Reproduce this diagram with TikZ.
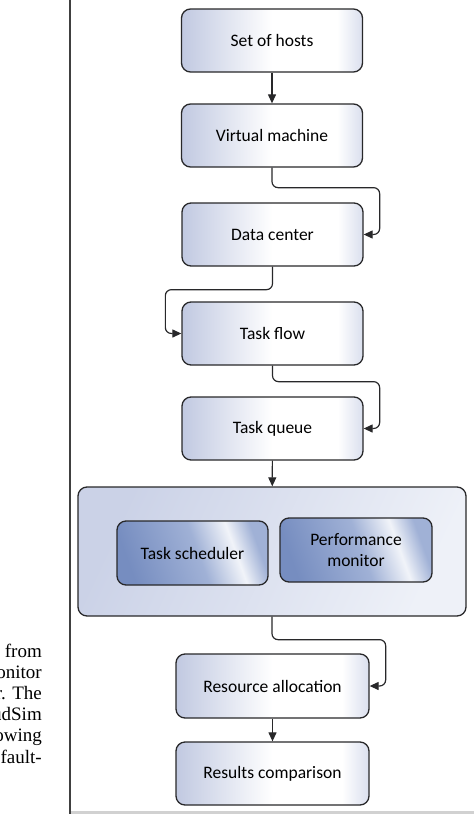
\documentclass[tikz,border=0pt]{standalone}
\usepackage{xcolor}
\usepackage{fontspec}
\usepackage{tikz}
\setmainfont{Carlito}
\newfontfamily\pagefont{Liberation Serif}
\usetikzlibrary{arrows.meta}

\definecolor{boxL}{RGB}{193,201,225}
\definecolor{boxR}{RGB}{218,223,238}
\definecolor{innerL}{RGB}{118,141,192}
\definecolor{innerM}{RGB}{160,177,214}
\definecolor{poolL}{RGB}{203,210,231}
\definecolor{poolR}{RGB}{238,241,248}
\definecolor{edge}{RGB}{40,40,42}

\pgfdeclarehorizontalshading{boxshade}{100bp}{color(0bp)=(boxL); color(25bp)=(boxL); color(50bp)=(white); color(68bp)=(white); color(75bp)=(boxR); color(100bp)=(boxR)}
\pgfdeclarehorizontalshading{innershade}{100bp}{color(0bp)=(innerL); color(25bp)=(innerL); color(52bp)=(innerM); color(66bp)=(white!85!innerM); color(75bp)=(innerM); color(100bp)=(innerM)}
\pgfdeclarehorizontalshading{poolshade}{100bp}{color(0bp)=(poolL); color(25bp)=(poolL); color(75bp)=(poolR); color(100bp)=(poolR)}

\begin{document}
\begin{tikzpicture}[x=1pt,y=-1pt,
    flowbox/.style={draw=edge,line width=1.3pt,rounded corners=9pt,shading=boxshade,
      minimum width=181pt,minimum height=63pt,inner sep=0pt,align=center,
      font=\fontsize{17.5}{21}\selectfont},
    innerbox/.style={flowbox,shading=innershade,shading angle=20,minimum width=151pt,minimum height=64pt},
    link/.style={line width=1.2pt,edge,rounded corners=6pt,-{Stealth[length=9pt,width=8pt,inset=0pt]}}]
  \useasboundingbox (0,0) rectangle (474,814);
  % page rule and cut text
  \draw[line width=1.3pt,black!75](70,0)--(70,814);
  \fill[black!18](71,811) rectangle (474,814);
  \node[anchor=base east,align=right,inner sep=0pt,font=\pagefont\fontsize{19}{21.2}\selectfont] (cut) at (42,763)
    {from\\onitor\\r. The\\\textbf{u}dSim\\owing\\fault-};
  % boxes
  \node[flowbox] (hosts) at (272,40.5) {Set of hosts};
  \node[flowbox] (vm) at (272,135.5) {Virtual machine};
  \node[flowbox] (dc) at (272.5,234.5) {Data center};
  \node[flowbox] (tflow) at (272.5,333.5) {Task flow};
  \node[flowbox] (tqueue) at (272.5,428.5) {Task queue};
  \node[flowbox,shading=poolshade,shading angle=-25,minimum width=388pt,minimum height=129pt] (pool) at (272,551.5) {};
  \node[innerbox] (sched) at (192.5,553) {Task scheduler};
  \node[innerbox,minimum width=152pt] (perf) at (356,550) {Performance\\monitor};
  \node[flowbox,minimum width=193pt,minimum height=64pt] (alloc) at (272.5,686) {Resource allocation};
  \node[flowbox,minimum width=193pt] (results) at (272.5,773.5) {Results comparison};
  % connectors
  \draw[link](hosts)--(vm);
  \draw[link](vm.south)--++(0,20)-|([xshift=16pt]dc.east)--(dc.east);
  \draw[link](dc.south)--++(0,23)-|([xshift=-16pt]tflow.west)--(tflow.west);
  \draw[link](tflow.south)--++(0,16)-|([xshift=16pt]tqueue.east)--(tqueue.east);
  \draw[link](tqueue)--(pool);
  \draw[link](pool.south)--++(0,23)-|([xshift=16pt]alloc.east)--(alloc.east);
  \draw[link](alloc)--(results);
\end{tikzpicture}
\end{document}
